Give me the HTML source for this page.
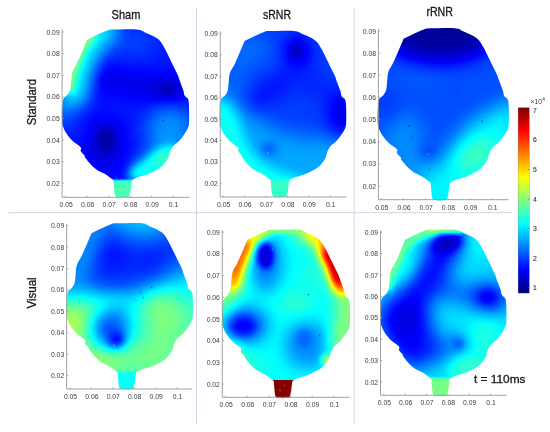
<!DOCTYPE html><html><head><meta charset="utf-8"><title>figure</title><style>html,body{margin:0;padding:0;background:#fff}svg{display:block}text{font-family:"Liberation Sans",sans-serif}</style></head><body>
<svg width="550" height="432" viewBox="0 0 550 432">
<defs>
<linearGradient id="jet" x1="0" y1="1" x2="0" y2="0">
<stop offset="0.000" stop-color="#000080"/>
<stop offset="0.025" stop-color="#000099"/>
<stop offset="0.050" stop-color="#0000b3"/>
<stop offset="0.075" stop-color="#0000cc"/>
<stop offset="0.100" stop-color="#0000e6"/>
<stop offset="0.125" stop-color="#0000ff"/>
<stop offset="0.150" stop-color="#001aff"/>
<stop offset="0.175" stop-color="#0033ff"/>
<stop offset="0.200" stop-color="#004dff"/>
<stop offset="0.225" stop-color="#0066ff"/>
<stop offset="0.250" stop-color="#0080ff"/>
<stop offset="0.275" stop-color="#0099ff"/>
<stop offset="0.300" stop-color="#00b3ff"/>
<stop offset="0.325" stop-color="#00ccff"/>
<stop offset="0.350" stop-color="#00e6ff"/>
<stop offset="0.375" stop-color="#00ffff"/>
<stop offset="0.400" stop-color="#1affe5"/>
<stop offset="0.425" stop-color="#33ffcc"/>
<stop offset="0.450" stop-color="#4cffb3"/>
<stop offset="0.475" stop-color="#66ff99"/>
<stop offset="0.500" stop-color="#80ff80"/>
<stop offset="0.525" stop-color="#99ff66"/>
<stop offset="0.550" stop-color="#b3ff4c"/>
<stop offset="0.575" stop-color="#ccff33"/>
<stop offset="0.600" stop-color="#e6ff19"/>
<stop offset="0.625" stop-color="#ffff00"/>
<stop offset="0.650" stop-color="#ffe500"/>
<stop offset="0.675" stop-color="#ffcc00"/>
<stop offset="0.700" stop-color="#ffb200"/>
<stop offset="0.725" stop-color="#ff9900"/>
<stop offset="0.750" stop-color="#ff8000"/>
<stop offset="0.775" stop-color="#ff6600"/>
<stop offset="0.800" stop-color="#ff4c00"/>
<stop offset="0.825" stop-color="#ff3300"/>
<stop offset="0.850" stop-color="#ff1a00"/>
<stop offset="0.875" stop-color="#ff0000"/>
<stop offset="0.900" stop-color="#e60000"/>
<stop offset="0.925" stop-color="#cc0000"/>
<stop offset="0.950" stop-color="#b20000"/>
<stop offset="0.975" stop-color="#990000"/>
<stop offset="1.000" stop-color="#800000"/>
</linearGradient>
<filter id="b1" filterUnits="userSpaceOnUse" x="0" y="0" width="550" height="432" color-interpolation-filters="sRGB"><feGaussianBlur stdDeviation="1.2"/></filter>
<filter id="b2" filterUnits="userSpaceOnUse" x="0" y="0" width="550" height="432" color-interpolation-filters="sRGB"><feGaussianBlur stdDeviation="2"/></filter>
<filter id="b3" filterUnits="userSpaceOnUse" x="0" y="0" width="550" height="432" color-interpolation-filters="sRGB"><feGaussianBlur stdDeviation="3"/></filter>
<filter id="b4" filterUnits="userSpaceOnUse" x="0" y="0" width="550" height="432" color-interpolation-filters="sRGB"><feGaussianBlur stdDeviation="4.5"/></filter>
<filter id="b6" filterUnits="userSpaceOnUse" x="0" y="0" width="550" height="432" color-interpolation-filters="sRGB"><feGaussianBlur stdDeviation="6"/></filter>
<filter id="b8" filterUnits="userSpaceOnUse" x="0" y="0" width="550" height="432" color-interpolation-filters="sRGB"><feGaussianBlur stdDeviation="8"/></filter>
<filter id="b10" filterUnits="userSpaceOnUse" x="0" y="0" width="550" height="432" color-interpolation-filters="sRGB"><feGaussianBlur stdDeviation="10"/></filter>
<filter id="b12" filterUnits="userSpaceOnUse" x="0" y="0" width="550" height="432" color-interpolation-filters="sRGB"><feGaussianBlur stdDeviation="12"/></filter>
<filter id="jm" filterUnits="userSpaceOnUse" x="0" y="0" width="550" height="432" color-interpolation-filters="sRGB"><feComponentTransfer><feFuncR type="table" tableValues="0 0 0 0 0 0 0 0 0 0 0 0 0 0 0 0 0 0 0 0 0 0 0 0 0 0.0625 0.125 0.188 0.25 0.312 0.375 0.438 0.5 0.562 0.625 0.688 0.75 0.812 0.875 0.938 1 1 1 1 1 1 1 1 1 1 1 1 1 1 1 1 1 0.938 0.875 0.812 0.75 0.688 0.625 0.562 0.5"/><feFuncG type="table" tableValues="0 0 0 0 0 0 0 0 0 0.0625 0.125 0.188 0.25 0.312 0.375 0.438 0.5 0.562 0.625 0.688 0.75 0.812 0.875 0.938 1 1 1 1 1 1 1 1 1 1 1 1 1 1 1 1 1 0.938 0.875 0.812 0.75 0.688 0.625 0.562 0.5 0.438 0.375 0.312 0.25 0.188 0.125 0.0625 0 0 0 0 0 0 0 0 0"/><feFuncB type="table" tableValues="0.5 0.562 0.625 0.688 0.75 0.812 0.875 0.938 1 1 1 1 1 1 1 1 1 1 1 1 1 1 1 1 1 0.938 0.875 0.812 0.75 0.688 0.625 0.562 0.5 0.438 0.375 0.312 0.25 0.188 0.125 0.0625 0 0 0 0 0 0 0 0 0 0 0 0 0 0 0 0 0 0 0 0 0 0 0 0 0"/></feComponentTransfer></filter>
<clipPath id="c1"><path d="M109.1 29.7C118.2 29.6 130.4 29.0 136.5 29.5C142.5 30.0 141.8 31.1 145.4 32.7C149.0 34.3 154.9 36.5 158.1 39.1C161.2 41.6 162.5 44.8 164.5 48.0C166.4 51.2 167.9 54.8 169.6 58.2C171.2 61.6 173.2 65.6 174.6 68.4C175.9 71.2 176.9 73.0 177.8 75.0C178.6 77.0 178.6 77.6 179.6 80.2C180.5 82.8 182.5 87.9 183.4 90.4C184.2 93.0 183.8 94.0 184.6 95.5C185.4 97.0 187.4 97.2 188.2 99.3C188.9 101.4 188.9 104.8 189.1 108.2C189.2 111.7 189.2 117.0 189.1 120.0C189.0 123.0 189.1 124.3 188.5 126.4C187.8 128.5 186.7 130.4 185.3 132.7C183.8 135.0 181.6 138.2 179.6 140.4C177.5 142.6 174.8 144.2 173.2 146.1C171.6 148.0 170.7 150.0 170.0 151.8C169.2 153.6 169.4 155.2 168.7 156.9C167.9 158.6 167.1 160.1 165.6 162.0C164.0 163.9 162.1 166.4 159.2 168.4C156.2 170.4 150.9 172.8 148.1 174.0C145.3 175.2 144.4 175.1 142.4 175.8C140.3 176.5 137.7 177.2 136.0 178.0C134.2 178.8 133.2 179.5 131.9 180.3C131.5 182.9 131.2 186.0 130.9 188.2C130.5 190.4 130.5 192.1 130.0 193.6C129.4 195.1 129.8 196.3 127.7 196.9C125.5 197.5 119.0 197.5 116.9 196.9C114.7 196.3 115.1 195.1 114.7 193.6C114.2 192.1 114.3 190.4 114.1 188.2C113.8 186.0 113.6 182.9 113.4 180.3C112.4 179.5 111.9 179.0 110.6 178.0C109.2 177.0 107.6 175.5 105.5 174.2C103.3 172.9 100.1 171.9 97.8 170.4C95.4 168.9 93.6 167.4 91.5 165.3C89.3 163.2 86.2 159.2 85.1 157.6C83.9 156.0 85.3 156.7 84.6 155.6C83.8 154.5 81.4 152.6 80.8 151.2C80.1 149.8 82.0 149.0 80.8 147.4C79.5 145.8 75.5 143.8 73.2 141.6C70.8 139.4 68.5 136.5 66.8 134.0C65.1 131.5 63.8 128.7 63.0 126.4C62.2 124.1 62.1 123.5 62.0 120.0C61.9 116.5 62.1 109.2 62.4 105.6C62.6 102.0 62.7 100.4 63.6 98.6C64.4 96.8 66.3 96.4 67.5 94.8C68.6 93.2 69.7 91.5 70.4 89.1C71.0 86.7 70.9 83.1 71.3 80.2C71.6 77.3 71.6 74.3 72.6 71.5C73.5 68.7 75.4 66.6 77.0 63.3C78.5 60.0 80.4 55.7 82.1 51.8C83.8 47.9 85.5 43.7 87.2 39.7C90.8 37.9 94.4 36.0 98.1 34.3C101.7 32.6 105.4 31.2 109.1 29.7Z"/></clipPath>
<clipPath id="c2"><path d="M266.5 31.1C275.6 31.1 287.7 30.4 293.8 30.9C299.8 31.4 299.1 32.5 302.6 34.1C306.2 35.7 312.1 37.9 315.3 40.4C318.5 43.0 319.8 46.1 321.7 49.3C323.6 52.4 325.1 56.0 326.8 59.4C328.4 62.7 330.4 66.7 331.7 69.5C333.1 72.2 334.1 74.1 334.9 76.0C335.8 78.0 335.8 78.6 336.7 81.2C337.7 83.7 339.7 88.7 340.5 91.3C341.3 93.8 340.9 94.8 341.7 96.3C342.5 97.8 344.6 98.0 345.3 100.1C346.0 102.2 346.0 105.5 346.2 108.9C346.3 112.3 346.3 117.6 346.2 120.6C346.1 123.6 346.2 124.8 345.6 126.9C345.0 129.0 343.9 130.9 342.4 133.2C340.9 135.5 338.7 138.6 336.7 140.8C334.7 143.0 331.9 144.6 330.3 146.4C328.8 148.3 327.9 150.3 327.2 152.1C326.4 153.9 326.6 155.5 325.9 157.1C325.1 158.8 324.4 160.3 322.8 162.2C321.2 164.1 319.3 166.6 316.4 168.5C313.5 170.5 308.1 172.9 305.3 174.1C302.5 175.3 301.7 175.2 299.6 175.9C297.6 176.5 295.0 177.3 293.3 178.0C291.5 178.8 290.5 179.6 289.2 180.3C288.9 182.9 288.5 186.0 288.2 188.2C287.9 190.4 287.8 192.1 287.3 193.5C286.8 194.9 287.2 196.2 285.0 196.8C282.8 197.3 276.4 197.3 274.2 196.8C272.1 196.2 272.5 194.9 272.0 193.5C271.6 192.1 271.7 190.4 271.4 188.2C271.2 186.0 271.0 182.9 270.7 180.3C269.8 179.6 269.3 179.1 268.0 178.0C266.6 177.0 265.0 175.5 262.9 174.3C260.7 173.0 257.5 172.0 255.2 170.5C252.9 169.0 251.0 167.6 248.9 165.5C246.8 163.4 243.7 159.4 242.5 157.8C241.4 156.2 242.8 156.9 242.0 155.9C241.3 154.8 238.9 152.9 238.3 151.5C237.6 150.1 239.5 149.3 238.3 147.7C237.0 146.1 233.0 144.2 230.7 142.0C228.3 139.8 226.0 137.0 224.3 134.5C222.6 131.9 221.3 129.2 220.5 126.9C219.7 124.6 219.6 124.0 219.5 120.6C219.4 117.2 219.6 109.9 219.9 106.3C220.2 102.8 220.3 101.2 221.1 99.4C222.0 97.6 223.9 97.2 225.0 95.6C226.1 94.1 227.3 92.4 227.9 90.0C228.5 87.6 228.4 84.1 228.8 81.2C229.1 78.2 229.1 75.3 230.1 72.5C231.0 69.7 232.9 67.7 234.5 64.4C236.0 61.2 237.9 56.9 239.5 53.0C241.2 49.1 242.9 45.0 244.6 41.0C248.3 39.2 251.9 37.3 255.5 35.7C259.1 34.0 262.8 32.6 266.5 31.1Z"/></clipPath>
<clipPath id="c3"><path d="M426.2 28.5C435.6 28.5 448.3 27.8 454.5 28.3C460.8 28.8 460.0 30.0 463.7 31.6C467.4 33.3 473.5 35.6 476.8 38.2C480.1 40.8 481.4 44.0 483.4 47.3C485.4 50.6 486.9 54.3 488.7 57.8C490.4 61.3 492.4 65.4 493.8 68.2C495.3 71.1 496.3 73.0 497.2 75.0C498.0 77.0 498.0 77.7 499.0 80.3C500.0 83.0 502.1 88.2 502.9 90.8C503.8 93.4 503.3 94.5 504.2 96.0C505.0 97.5 507.1 97.7 507.9 99.9C508.7 102.1 508.7 105.5 508.8 109.0C509.0 112.6 508.9 118.0 508.8 121.1C508.7 124.2 508.9 125.5 508.2 127.7C507.5 129.9 506.4 131.8 504.9 134.2C503.4 136.6 501.1 139.8 499.0 142.1C496.9 144.3 494.1 146.0 492.4 147.9C490.8 149.9 489.9 151.9 489.1 153.7C488.3 155.6 488.5 157.2 487.8 159.0C487.0 160.7 486.2 162.2 484.6 164.2C482.9 166.2 481.0 168.7 477.9 170.8C474.9 172.8 469.4 175.2 466.5 176.5C463.6 177.8 462.7 177.7 460.6 178.4C458.5 179.0 455.8 179.8 454.0 180.6C452.2 181.4 451.2 182.2 449.8 183.0C449.4 185.7 449.1 188.8 448.7 191.1C448.4 193.3 448.3 195.1 447.8 196.6C447.2 198.1 447.7 199.4 445.4 200.0C443.2 200.6 436.5 200.6 434.3 200.0C432.0 199.4 432.5 198.1 432.0 196.6C431.5 195.1 431.6 193.3 431.4 191.1C431.2 188.8 430.9 185.7 430.7 183.0C429.7 182.2 429.1 181.7 427.8 180.6C426.4 179.6 424.7 178.0 422.5 176.7C420.3 175.4 417.0 174.3 414.5 172.8C412.1 171.3 410.2 169.8 408.0 167.6C405.9 165.4 402.6 161.4 401.4 159.7C400.2 158.0 401.7 158.7 400.9 157.6C400.2 156.6 397.6 154.5 397.0 153.1C396.3 151.7 398.3 150.9 397.0 149.2C395.7 147.6 391.6 145.6 389.1 143.3C386.7 141.0 384.3 138.1 382.5 135.5C380.8 132.9 379.4 130.1 378.6 127.7C377.8 125.3 377.7 124.7 377.6 121.1C377.5 117.6 377.7 110.0 378.0 106.4C378.3 102.7 378.4 101.0 379.2 99.2C380.1 97.3 382.1 96.9 383.3 95.3C384.4 93.7 385.6 91.9 386.3 89.5C386.9 87.0 386.8 83.3 387.2 80.3C387.6 77.3 387.5 74.3 388.5 71.4C389.5 68.5 391.4 66.4 393.1 63.0C394.7 59.6 396.6 55.2 398.3 51.2C400.1 47.2 401.8 42.9 403.6 38.8C407.4 36.9 411.1 35.0 414.9 33.3C418.6 31.5 422.4 30.1 426.2 28.5Z"/></clipPath>
<clipPath id="c4"><path d="M113.3 223.3C122.4 223.3 134.5 222.6 140.6 223.1C146.6 223.6 145.8 224.7 149.4 226.3C153.0 227.9 158.9 230.1 162.1 232.6C165.2 235.2 166.5 238.3 168.4 241.5C170.3 244.6 171.8 248.2 173.5 251.6C175.2 254.9 177.1 258.9 178.5 261.7C179.9 264.4 180.8 266.3 181.7 268.2C182.5 270.2 182.5 270.8 183.5 273.4C184.4 275.9 186.4 280.9 187.3 283.5C188.1 286.0 187.7 287.0 188.4 288.5C189.2 290.0 191.3 290.2 192.0 292.3C192.8 294.4 192.8 297.7 192.9 301.1C193.1 304.5 193.0 309.8 192.9 312.8C192.8 315.8 193.0 317.0 192.3 319.1C191.7 321.2 190.6 323.1 189.1 325.4C187.7 327.7 185.5 330.8 183.5 333.0C181.5 335.2 178.7 336.8 177.1 338.6C175.5 340.5 174.7 342.5 173.9 344.3C173.2 346.1 173.4 347.7 172.6 349.3C171.9 351.0 171.1 352.5 169.5 354.4C168.0 356.3 166.1 358.8 163.2 360.7C160.3 362.7 154.9 365.1 152.1 366.3C149.3 367.5 148.5 367.4 146.4 368.1C144.4 368.7 141.8 369.5 140.1 370.2C138.3 371.0 137.4 371.8 136.0 372.5C135.7 375.1 135.3 378.2 135.0 380.4C134.7 382.6 134.6 384.3 134.1 385.7C133.6 387.1 134.0 388.4 131.8 389.0C129.6 389.5 123.2 389.5 121.1 389.0C118.9 388.4 119.3 387.1 118.9 385.7C118.4 384.3 118.5 382.6 118.3 380.4C118.1 378.2 117.8 375.1 117.6 372.5C116.6 371.8 116.1 371.3 114.8 370.2C113.5 369.2 111.8 367.7 109.7 366.5C107.6 365.2 104.4 364.2 102.1 362.7C99.7 361.2 97.9 359.8 95.8 357.7C93.7 355.6 90.6 351.6 89.4 350.0C88.3 348.4 89.6 349.1 88.9 348.1C88.2 347.0 85.8 345.1 85.1 343.7C84.5 342.3 86.4 341.5 85.1 339.9C83.9 338.3 79.9 336.4 77.6 334.2C75.2 332.0 72.9 329.2 71.2 326.7C69.5 324.1 68.2 321.4 67.4 319.1C66.6 316.8 66.5 316.2 66.4 312.8C66.3 309.4 66.5 302.1 66.8 298.5C67.1 295.0 67.2 293.4 68.0 291.6C68.9 289.8 70.8 289.4 71.9 287.8C73.0 286.3 74.1 284.6 74.8 282.2C75.4 279.8 75.3 276.3 75.7 273.4C76.0 270.4 76.0 267.5 77.0 264.7C77.9 261.9 79.8 259.9 81.3 256.6C82.9 253.4 84.7 249.1 86.4 245.2C88.1 241.3 89.8 237.2 91.5 233.2C95.1 231.4 98.7 229.5 102.3 227.9C106.0 226.2 109.6 224.8 113.3 223.3Z"/></clipPath>
<clipPath id="c5"><path d="M269.4 229.8C278.6 229.7 290.9 229.1 297.0 229.6C303.1 230.1 302.3 231.2 306.0 232.8C309.6 234.4 315.5 236.7 318.7 239.2C322.0 241.8 323.3 245.0 325.2 248.2C327.1 251.4 328.6 255.0 330.3 258.4C332.0 261.8 334.0 265.9 335.4 268.7C336.7 271.5 337.7 273.3 338.6 275.3C339.4 277.3 339.5 277.9 340.4 280.5C341.3 283.1 343.4 288.2 344.2 290.8C345.1 293.3 344.6 294.4 345.4 295.9C346.2 297.4 348.3 297.6 349.1 299.7C349.8 301.8 349.8 305.2 350.0 308.7C350.1 312.1 350.1 317.5 350.0 320.5C349.9 323.6 350.0 324.8 349.4 326.9C348.7 329.1 347.6 330.9 346.1 333.3C344.6 335.6 342.4 338.8 340.4 341.0C338.4 343.2 335.6 344.8 334.0 346.7C332.3 348.6 331.5 350.6 330.7 352.5C330.0 354.3 330.2 355.9 329.4 357.6C328.7 359.3 327.9 360.8 326.3 362.7C324.7 364.6 322.8 367.1 319.9 369.1C316.9 371.1 311.5 373.5 308.7 374.8C305.9 376.0 305.0 375.9 302.9 376.6C300.9 377.2 298.3 378.0 296.5 378.8C294.7 379.5 293.7 380.3 292.4 381.1C292.0 383.7 291.7 386.8 291.4 389.0C291.0 391.2 291.0 393.0 290.4 394.4C289.9 395.9 290.3 397.2 288.1 397.8C285.9 398.3 279.4 398.3 277.3 397.8C275.1 397.2 275.5 395.9 275.0 394.4C274.6 393.0 274.7 391.2 274.4 389.0C274.2 386.8 274.0 383.7 273.7 381.1C272.8 380.3 272.2 379.8 270.9 378.8C269.6 377.8 267.9 376.2 265.8 375.0C263.6 373.7 260.4 372.6 258.0 371.1C255.7 369.7 253.8 368.2 251.7 366.0C249.5 363.9 246.4 359.9 245.2 358.3C244.1 356.7 245.5 357.3 244.7 356.3C244.0 355.2 241.5 353.2 240.9 351.9C240.3 350.5 242.2 349.6 240.9 348.0C239.6 346.4 235.6 344.5 233.3 342.2C230.9 340.0 228.5 337.1 226.8 334.6C225.1 332.0 223.8 329.3 223.0 326.9C222.2 324.6 222.1 324.0 222.0 320.5C221.9 317.0 222.1 309.6 222.4 306.0C222.6 302.5 222.7 300.8 223.6 299.0C224.4 297.2 226.4 296.8 227.5 295.2C228.7 293.6 229.8 291.9 230.4 289.5C231.1 287.0 231.0 283.5 231.3 280.5C231.7 277.6 231.7 274.6 232.6 271.8C233.6 269.0 235.5 266.8 237.1 263.5C238.7 260.2 240.5 255.9 242.2 252.0C243.9 248.0 245.6 243.9 247.4 239.8C251.0 238.0 254.7 236.1 258.3 234.4C262.0 232.7 265.7 231.3 269.4 229.8Z"/></clipPath>
<clipPath id="c6"><path d="M427.0 229.8C436.1 229.8 448.2 229.1 454.2 229.6C460.2 230.1 459.5 231.2 463.0 232.8C466.6 234.4 472.5 236.6 475.6 239.1C478.8 241.7 480.1 244.8 482.0 248.0C483.9 251.1 485.4 254.7 487.0 258.1C488.7 261.4 490.6 265.4 492.0 268.2C493.3 270.9 494.3 272.8 495.2 274.7C496.0 276.7 496.0 277.3 496.9 279.9C497.9 282.4 499.9 287.4 500.7 290.0C501.5 292.5 501.1 293.5 501.9 295.0C502.7 296.5 504.7 296.7 505.5 298.8C506.2 300.9 506.2 304.2 506.4 307.6C506.5 311.0 506.5 316.3 506.4 319.3C506.3 322.3 506.4 323.5 505.8 325.6C505.1 327.7 504.1 329.6 502.6 331.9C501.1 334.2 498.9 337.3 496.9 339.5C494.9 341.7 492.2 343.3 490.6 345.1C489.0 347.0 488.2 349.0 487.4 350.8C486.7 352.6 486.9 354.2 486.1 355.8C485.4 357.5 484.6 359.0 483.1 360.9C481.5 362.8 479.6 365.3 476.7 367.2C473.8 369.2 468.5 371.6 465.7 372.8C462.9 374.0 462.1 373.9 460.1 374.6C458.1 375.2 455.4 376.0 453.7 376.7C452.0 377.5 451.0 378.3 449.6 379.0C449.3 381.6 449.0 384.7 448.7 386.9C448.3 389.1 448.3 390.8 447.8 392.2C447.2 393.6 447.6 394.9 445.5 395.5C443.3 396.0 436.9 396.0 434.8 395.5C432.6 394.9 433.1 393.6 432.6 392.2C432.1 390.8 432.2 389.1 432.0 386.9C431.8 384.7 431.5 381.6 431.3 379.0C430.4 378.3 429.8 377.8 428.5 376.7C427.2 375.7 425.6 374.2 423.5 373.0C421.4 371.7 418.1 370.7 415.8 369.2C413.5 367.7 411.7 366.3 409.6 364.2C407.5 362.1 404.4 358.1 403.2 356.5C402.1 354.9 403.5 355.6 402.7 354.6C402.0 353.5 399.6 351.6 399.0 350.2C398.3 348.8 400.2 348.0 399.0 346.4C397.7 344.8 393.8 342.9 391.4 340.7C389.1 338.5 386.8 335.7 385.1 333.2C383.4 330.6 382.1 327.9 381.3 325.6C380.5 323.3 380.4 322.7 380.3 319.3C380.2 315.9 380.5 308.6 380.7 305.0C381.0 301.5 381.1 299.9 381.9 298.1C382.8 296.3 384.7 295.9 385.8 294.3C386.9 292.8 388.0 291.1 388.7 288.7C389.3 286.3 389.2 282.8 389.6 279.9C389.9 276.9 389.9 274.0 390.8 271.2C391.8 268.4 393.6 266.4 395.2 263.1C396.8 259.9 398.6 255.6 400.3 251.7C401.9 247.8 403.6 243.7 405.3 239.7C408.9 237.9 412.5 236.0 416.1 234.4C419.7 232.7 423.4 231.3 427.0 229.8Z"/></clipPath>
</defs>
<rect width="550" height="432" fill="#fff"/>
<g stroke="#cdd3e6" stroke-width="1" fill="none"><path d="M196.5 8V424M354.1 8V424M8.5 212.7H512"/></g>
<g clip-path="url(#c1)"><g filter="url(#jm)">
<rect x="57.1" y="26.5" width="140" height="180" fill="#262626"/>
<g filter="url(#b10)">
<ellipse cx="128" cy="42" rx="30" ry="14" fill="#323232"/>
<polyline points="97,78 130,84 165,90" fill="none" stroke="#161616" stroke-width="18" stroke-linecap="round" stroke-linejoin="round"/>
<ellipse cx="168" cy="90" rx="20" ry="11" fill="#111111"/>
<ellipse cx="106" cy="141" rx="14" ry="22" fill="#0f0f0f"/>
<ellipse cx="100" cy="162" rx="22" ry="9" fill="#1a1a1a" transform="rotate(30 100 162)"/>
<ellipse cx="170" cy="130" rx="24" ry="24" fill="#464646"/>
<ellipse cx="63" cy="106" rx="10" ry="18" fill="#484848"/>
</g>
<g filter="url(#b8)">
<polyline points="103,30 89,45 79,68 74,92" fill="none" stroke="#5d5d5d" stroke-width="28" stroke-linecap="round" stroke-linejoin="round"/>
<ellipse cx="158" cy="162" rx="26" ry="13" fill="#595959" transform="rotate(-35 158 162)"/>
</g>
<g filter="url(#b3)">
<polyline points="91,36 80,52 73.5,70 69.5,88" fill="none" stroke="#818181" stroke-width="10" stroke-linecap="round" stroke-linejoin="round"/>
</g>
<g filter="url(#b4)">
<ellipse cx="167" cy="90" rx="9" ry="5" fill="#0b0b0b"/>
<ellipse cx="106" cy="141" rx="7" ry="11" fill="#070707"/>
<ellipse cx="161" cy="160" rx="18" ry="9" fill="#6f6f6f" transform="rotate(-38 161 160)"/>
<ellipse cx="146" cy="170" rx="18" ry="8" fill="#656565" transform="rotate(-20 146 170)"/>
</g>
<g filter="url(#b1)">
<polygon shape-rendering="crispEdges" points="110,180 134,180 134,200 110,200" fill="#727272"/>
</g>
</g>
<circle cx="114.5" cy="48.8" r="0.8" fill="#0a1a9a" opacity="0.55"/>
<circle cx="163.2" cy="120.5" r="0.8" fill="#0a1a9a" opacity="0.55"/>
</g>
<g stroke="#969696" stroke-width="0.9" fill="none">
<path d="M62.1 29.5V197.3H189.3M65.6 197.3v-1.5M87.1 197.3v-1.5M108.6 197.3v-1.5M130.1 197.3v-1.5M151.6 197.3v-1.5M173.1 197.3v-1.5M62.1 183.3h1.5M62.1 161.7h1.5M62.1 140.1h1.5M62.1 118.5h1.5M62.1 96.9h1.5M62.1 75.3h1.5M62.1 53.7h1.5M62.1 32.1h1.5"/></g>
<g font-size="6.8" fill="#3c3c3c">
<text x="66.1" y="207.3" text-anchor="middle">0.05</text>
<text x="87.6" y="207.3" text-anchor="middle">0.06</text>
<text x="109.1" y="207.3" text-anchor="middle">0.07</text>
<text x="130.6" y="207.3" text-anchor="middle">0.08</text>
<text x="152.1" y="207.3" text-anchor="middle">0.09</text>
<text x="173.6" y="207.3" text-anchor="middle">0.1</text>
<text x="59.7" y="185.8" text-anchor="end">0.02</text>
<text x="59.7" y="164.2" text-anchor="end">0.03</text>
<text x="59.7" y="142.6" text-anchor="end">0.04</text>
<text x="59.7" y="121.0" text-anchor="end">0.05</text>
<text x="59.7" y="99.4" text-anchor="end">0.06</text>
<text x="59.7" y="77.8" text-anchor="end">0.07</text>
<text x="59.7" y="56.2" text-anchor="end">0.08</text>
<text x="59.7" y="34.6" text-anchor="end">0.09</text>
</g>
<g clip-path="url(#c2)"><g filter="url(#jm)">
<rect x="215.2" y="28.5" width="140" height="180" fill="#303030"/>
<g filter="url(#b10)">
<ellipse cx="248" cy="50" rx="24" ry="16" fill="#3c3c3c"/>
<ellipse cx="236" cy="78" rx="8" ry="16" fill="#404040"/>
<ellipse cx="298" cy="52" rx="12" ry="16" fill="#141414"/>
<polyline points="250,108 265,93 288,80" fill="none" stroke="#1c1c1c" stroke-width="14" stroke-linecap="round" stroke-linejoin="round"/>
<ellipse cx="341" cy="114" rx="10" ry="24" fill="#111111"/>
<ellipse cx="315" cy="85" rx="14" ry="12" fill="#262626"/>
<polygon shape-rendering="crispEdges" points="215,88 228,92 252,112 272,128 295,136 318,138 335,135 350,145 350,200 215,200" fill="#4a4a4a"/>
</g>
<g filter="url(#b6)">
<polygon shape-rendering="crispEdges" points="212,97 227,101 238,118 243,135 250,150 262,163 280,172 302,177 302,200 212,200" fill="#636363"/>
</g>
<g filter="url(#b4)">
<ellipse cx="297" cy="51" rx="6" ry="8" fill="#0d0d0d"/>
<ellipse cx="269" cy="148.5" rx="7" ry="5" fill="#303030"/>
</g>
<g filter="url(#b1)">
<polygon shape-rendering="crispEdges" points="266,180 292,180 292,200 266,200" fill="#6d6d6d"/>
</g>
</g>
<circle cx="292.8" cy="119" r="0.8" fill="#0a1a9a" opacity="0.55"/>
<circle cx="267.7" cy="152.7" r="0.7" fill="#bfe8ff" opacity="0.55"/>
</g>
<g stroke="#969696" stroke-width="0.9" fill="none">
<path d="M220.2 31.5V197.0H346.6M223.1 197.0v-1.5M244.5 197.0v-1.5M266.0 197.0v-1.5M287.4 197.0v-1.5M308.8 197.0v-1.5M330.2 197.0v-1.5M220.2 183.3h1.5M220.2 161.9h1.5M220.2 140.5h1.5M220.2 119.1h1.5M220.2 97.7h1.5M220.2 76.3h1.5M220.2 54.9h1.5M220.2 33.5h1.5"/></g>
<g font-size="6.8" fill="#3c3c3c">
<text x="223.6" y="207.0" text-anchor="middle">0.05</text>
<text x="245.0" y="207.0" text-anchor="middle">0.06</text>
<text x="266.5" y="207.0" text-anchor="middle">0.07</text>
<text x="287.9" y="207.0" text-anchor="middle">0.08</text>
<text x="309.3" y="207.0" text-anchor="middle">0.09</text>
<text x="330.8" y="207.0" text-anchor="middle">0.1</text>
<text x="217.8" y="185.8" text-anchor="end">0.02</text>
<text x="217.8" y="164.4" text-anchor="end">0.03</text>
<text x="217.8" y="143.0" text-anchor="end">0.04</text>
<text x="217.8" y="121.6" text-anchor="end">0.05</text>
<text x="217.8" y="100.2" text-anchor="end">0.06</text>
<text x="217.8" y="78.8" text-anchor="end">0.07</text>
<text x="217.8" y="57.4" text-anchor="end">0.08</text>
<text x="217.8" y="36.0" text-anchor="end">0.09</text>
</g>
<g clip-path="url(#c3)"><g filter="url(#jm)">
<rect x="373.4" y="25.8" width="140" height="180" fill="#343434"/>
<g filter="url(#b10)">
<ellipse cx="440" cy="24" rx="62" ry="38" fill="#070707"/>
<ellipse cx="431" cy="177" rx="22" ry="9" fill="#555555"/>
<ellipse cx="420" cy="78" rx="20" ry="10" fill="#383838"/>
<polygon shape-rendering="crispEdges" points="520,98 497,108 472,122 453,143 440,162 424,178 420,205 520,205" fill="#5f5f5f"/>
<ellipse cx="403" cy="140" rx="20" ry="28" fill="#444444"/>
<ellipse cx="412" cy="165" rx="14" ry="8" fill="#484848"/>
<ellipse cx="388" cy="108" rx="8" ry="16" fill="#282828"/>
</g>
<g filter="url(#b8)">
<ellipse cx="476" cy="155" rx="22" ry="12" fill="#717171" transform="rotate(-42 476 155)"/>
</g>
<g filter="url(#b4)">
<ellipse cx="429" cy="150.5" rx="7" ry="4.5" fill="#303030"/>
</g>
<g filter="url(#b1)">
<polygon shape-rendering="crispEdges" points="428,183 454,183 454,203 428,203" fill="#5d5d5d"/>
</g>
</g>
<circle cx="409.4" cy="125.8" r="0.9" fill="#0a1a9a" opacity="0.55"/>
<circle cx="453.6" cy="119.3" r="0.8" fill="#0a1a9a" opacity="0.55"/>
<circle cx="482.2" cy="121.3" r="0.9" fill="#0a1a9a" opacity="0.55"/>
<circle cx="411.4" cy="137.6" r="0.8" fill="#0a1a9a" opacity="0.55"/>
<circle cx="428.2" cy="154.4" r="0.7" fill="#bfe8ff" opacity="0.55"/>
<circle cx="429.5" cy="169.5" r="0.8" fill="#0a1a9a" opacity="0.55"/>
</g>
<g stroke="#969696" stroke-width="0.9" fill="none">
<path d="M378.4 28.8V199.7H508.5M381.3 199.7v-1.5M403.5 199.7v-1.5M425.7 199.7v-1.5M447.9 199.7v-1.5M470.1 199.7v-1.5M492.3 199.7v-1.5M378.4 186.1h1.5M378.4 163.9h1.5M378.4 141.8h1.5M378.4 119.6h1.5M378.4 97.5h1.5M378.4 75.3h1.5M378.4 53.2h1.5M378.4 31.0h1.5"/></g>
<g font-size="6.8" fill="#3c3c3c">
<text x="381.8" y="209.7" text-anchor="middle">0.05</text>
<text x="404.0" y="209.7" text-anchor="middle">0.06</text>
<text x="426.2" y="209.7" text-anchor="middle">0.07</text>
<text x="448.4" y="209.7" text-anchor="middle">0.08</text>
<text x="470.6" y="209.7" text-anchor="middle">0.09</text>
<text x="492.8" y="209.7" text-anchor="middle">0.1</text>
<text x="376.0" y="188.6" text-anchor="end">0.02</text>
<text x="376.0" y="166.4" text-anchor="end">0.03</text>
<text x="376.0" y="144.2" text-anchor="end">0.04</text>
<text x="376.0" y="122.1" text-anchor="end">0.05</text>
<text x="376.0" y="100.0" text-anchor="end">0.06</text>
<text x="376.0" y="77.8" text-anchor="end">0.07</text>
<text x="376.0" y="55.7" text-anchor="end">0.08</text>
<text x="376.0" y="33.5" text-anchor="end">0.09</text>
</g>
<g clip-path="url(#c4)"><g filter="url(#jm)">
<rect x="61.6" y="220.8" width="140" height="180" fill="#717171"/>
<g filter="url(#b10)">
<polygon shape-rendering="crispEdges" points="55,215 200,215 200,272 178,279 152,288 128,295 105,295 85,291 55,291" fill="#2c2c2c"/>
<ellipse cx="180" cy="274" rx="14" ry="12" fill="#484848"/>
<ellipse cx="143" cy="228" rx="30" ry="12" fill="#4c4c4c"/>
<ellipse cx="111" cy="254" rx="18" ry="12" fill="#202020"/>
<ellipse cx="152" cy="256" rx="14" ry="9" fill="#242424"/>
<polyline points="96,228 85,252 76,280" fill="none" stroke="#595959" stroke-width="13" stroke-linecap="round" stroke-linejoin="round"/>
<ellipse cx="72" cy="322" rx="14" ry="22" fill="#929292"/>
<ellipse cx="160" cy="312" rx="26" ry="17" fill="#818181"/>
<ellipse cx="134" cy="316" rx="10" ry="20" fill="#5f5f5f"/>
<ellipse cx="102" cy="358" rx="24" ry="10" fill="#8e8e8e"/>
<ellipse cx="150" cy="358" rx="22" ry="9" fill="#858585"/>
<ellipse cx="188" cy="297" rx="8" ry="10" fill="#595959"/>
<ellipse cx="166" cy="336" rx="18" ry="12" fill="#7f7f7f"/>
<ellipse cx="69" cy="298" rx="8" ry="8" fill="#555555"/>
</g>
<g filter="url(#b8)">
<ellipse cx="111" cy="329" rx="18" ry="19" fill="#343434"/>
<ellipse cx="119" cy="308" rx="10" ry="8" fill="#4c4c4c"/>
</g>
<g filter="url(#b4)">
<ellipse cx="116.5" cy="339.5" rx="7" ry="7" fill="#181818"/>
</g>
<g filter="url(#b1)">
<polygon shape-rendering="crispEdges" points="114,372 140,372 140,392 114,392" fill="#616161"/>
</g>
</g>
<circle cx="151.6" cy="287.3" r="0.9" fill="#0a1a9a" opacity="0.55"/>
<circle cx="140.3" cy="292.8" r="0.8" fill="#0a1a9a" opacity="0.55"/>
<circle cx="143.3" cy="297.8" r="0.7" fill="#0a1a9a" opacity="0.55"/>
<circle cx="136" cy="300" r="0.6" fill="#0a1a9a" opacity="0.55"/>
<circle cx="114" cy="345.2" r="0.7" fill="#d8f4ff" opacity="0.55"/>
</g>
<g stroke="#969696" stroke-width="0.9" fill="none">
<path d="M66.6 223.8V389.0H192.3M70.0 389.0v-1.5M91.4 389.0v-1.5M112.8 389.0v-1.5M134.2 389.0v-1.5M155.6 389.0v-1.5M177.0 389.0v-1.5M66.6 375.5h1.5M66.6 354.1h1.5M66.6 332.7h1.5M66.6 311.3h1.5M66.6 289.9h1.5M66.6 268.5h1.5M66.6 247.1h1.5M66.6 225.7h1.5"/></g>
<g font-size="6.8" fill="#3c3c3c">
<text x="70.5" y="399.0" text-anchor="middle">0.05</text>
<text x="91.9" y="399.0" text-anchor="middle">0.06</text>
<text x="113.3" y="399.0" text-anchor="middle">0.07</text>
<text x="134.7" y="399.0" text-anchor="middle">0.08</text>
<text x="156.1" y="399.0" text-anchor="middle">0.09</text>
<text x="177.5" y="399.0" text-anchor="middle">0.1</text>
<text x="64.2" y="378.0" text-anchor="end">0.02</text>
<text x="64.2" y="356.6" text-anchor="end">0.03</text>
<text x="64.2" y="335.2" text-anchor="end">0.04</text>
<text x="64.2" y="313.8" text-anchor="end">0.05</text>
<text x="64.2" y="292.4" text-anchor="end">0.06</text>
<text x="64.2" y="271.0" text-anchor="end">0.07</text>
<text x="64.2" y="249.6" text-anchor="end">0.08</text>
<text x="64.2" y="228.2" text-anchor="end">0.09</text>
</g>
<g clip-path="url(#c5)"><g filter="url(#jm)">
<rect x="217.3" y="227.5" width="140" height="180" fill="#616161"/>
<g filter="url(#b8)">
<polyline points="266,228 248,240 238,260 231,285 225,305 225,330 236,348" fill="none" stroke="#898989" stroke-width="18" stroke-linecap="round" stroke-linejoin="round"/>
<polyline points="300,228 322,240 333,260 341,283 348,300 346,325 336,348" fill="none" stroke="#898989" stroke-width="18" stroke-linecap="round" stroke-linejoin="round"/>
<polyline points="240,356 258,372" fill="none" stroke="#757575" stroke-width="8" stroke-linecap="round" stroke-linejoin="round"/>
<ellipse cx="266" cy="262" rx="16" ry="30" fill="#404040"/>
<ellipse cx="244" cy="325" rx="25" ry="20" fill="#3c3c3c"/>
<ellipse cx="307" cy="345" rx="23" ry="24" fill="#444444"/>
<ellipse cx="296" cy="302" rx="16" ry="10" fill="#6d6d6d"/>
<ellipse cx="312" cy="276" rx="10" ry="12" fill="#696969"/>
</g>
<g filter="url(#b4)">
<polyline points="262,230 252,237 245,246" fill="none" stroke="#a2a2a2" stroke-width="14" stroke-linecap="round" stroke-linejoin="round"/>
<polyline points="244,248 236,266 232,282" fill="none" stroke="#bababa" stroke-width="16" stroke-linecap="round" stroke-linejoin="round"/>
<polyline points="310,232 320,239 327,248" fill="none" stroke="#a6a6a6" stroke-width="14" stroke-linecap="round" stroke-linejoin="round"/>
<polyline points="328,250 337,269 342,285" fill="none" stroke="#cbcbcb" stroke-width="18" stroke-linecap="round" stroke-linejoin="round"/>
<ellipse cx="243.5" cy="326" rx="13" ry="10" fill="#1e1e1e"/>
</g>
<g filter="url(#b3)">
<polyline points="246,244 239,258 234.5,272" fill="none" stroke="#cbcbcb" stroke-width="6" stroke-linecap="round" stroke-linejoin="round"/>
<polyline points="330,254 335,264 339.5,278" fill="none" stroke="#efefef" stroke-width="12" stroke-linecap="round" stroke-linejoin="round"/>
<ellipse cx="265.5" cy="256" rx="8" ry="13" fill="#141414"/>
<ellipse cx="304" cy="339" rx="8" ry="9" fill="#3a3a3a"/>
<ellipse cx="327" cy="360" rx="5" ry="4" fill="#a2a2a2"/>
</g>
<g filter="url(#b2)">
<polyline points="258,231 305,231" fill="none" stroke="#898989" stroke-width="4" stroke-linecap="round" stroke-linejoin="round"/>
</g>
<g>
<polygon shape-rendering="crispEdges" points="269,380 296,380 296,400 269,400" fill="#fdfdfd"/>
</g>
</g>
<circle cx="308.4" cy="294.5" r="0.8" fill="#0a1a9a" opacity="0.55"/>
<circle cx="319.7" cy="335.1" r="0.8" fill="#0a1a9a" opacity="0.55"/>
<circle cx="280" cy="390.4" r="0.8" fill="#5fd0e0" opacity="0.55"/>
<circle cx="284.6" cy="385.6" r="0.8" fill="#ff5020" opacity="0.55"/>
<circle cx="272.5" cy="249" r="0.6" fill="#d8f4ff" opacity="0.55"/>
</g>
<g stroke="#969696" stroke-width="0.9" fill="none">
<path d="M222.3 230.5V397.3H349.8M225.6 397.3v-1.5M247.2 397.3v-1.5M268.9 397.3v-1.5M290.5 397.3v-1.5M312.2 397.3v-1.5M333.9 397.3v-1.5M222.3 384.1h1.5M222.3 362.4h1.5M222.3 340.7h1.5M222.3 319.0h1.5M222.3 297.3h1.5M222.3 275.6h1.5M222.3 253.9h1.5M222.3 232.2h1.5"/></g>
<g font-size="6.8" fill="#3c3c3c">
<text x="226.1" y="407.3" text-anchor="middle">0.05</text>
<text x="247.8" y="407.3" text-anchor="middle">0.06</text>
<text x="269.4" y="407.3" text-anchor="middle">0.07</text>
<text x="291.0" y="407.3" text-anchor="middle">0.08</text>
<text x="312.7" y="407.3" text-anchor="middle">0.09</text>
<text x="334.4" y="407.3" text-anchor="middle">0.1</text>
<text x="219.9" y="386.6" text-anchor="end">0.02</text>
<text x="219.9" y="364.9" text-anchor="end">0.03</text>
<text x="219.9" y="343.2" text-anchor="end">0.04</text>
<text x="219.9" y="321.5" text-anchor="end">0.05</text>
<text x="219.9" y="299.8" text-anchor="end">0.06</text>
<text x="219.9" y="278.1" text-anchor="end">0.07</text>
<text x="219.9" y="256.4" text-anchor="end">0.08</text>
<text x="219.9" y="234.7" text-anchor="end">0.09</text>
</g>
<g clip-path="url(#c6)"><g filter="url(#jm)">
<rect x="375.5" y="227.5" width="140" height="180" fill="#595959"/>
<g filter="url(#b10)">
<polyline points="449,240 438,262 426,284 410,302" fill="none" stroke="#1c1c1c" stroke-width="28" stroke-linecap="round" stroke-linejoin="round"/>
<polyline points="436,290 465,293 490,298" fill="none" stroke="#2c2c2c" stroke-width="14" stroke-linecap="round" stroke-linejoin="round"/>
<ellipse cx="405" cy="322" rx="26" ry="28" fill="#181818" transform="rotate(-30 405 322)"/>
<ellipse cx="428" cy="346" rx="20" ry="13" fill="#242424" transform="rotate(30 428 346)"/>
<ellipse cx="406" cy="350" rx="24" ry="12" fill="#1c1c1c" transform="rotate(42 406 350)"/>
<ellipse cx="490" cy="298" rx="18" ry="13" fill="#161616"/>
<ellipse cx="455" cy="345" rx="14" ry="12" fill="#404040"/>
<ellipse cx="485" cy="335" rx="15" ry="22" fill="#6b6b6b"/>
<ellipse cx="470" cy="364" rx="16" ry="9" fill="#6d6d6d"/>
<ellipse cx="487" cy="264" rx="10" ry="10" fill="#515151"/>
<ellipse cx="478" cy="244" rx="12" ry="10" fill="#696969"/>
</g>
<g filter="url(#b6)">
<ellipse cx="402" cy="264" rx="10" ry="18" fill="#5f5f5f" transform="rotate(25 402 264)"/>
<ellipse cx="466" cy="367" rx="18" ry="9" fill="#6d6d6d" transform="rotate(-15 466 367)"/>
</g>
<g filter="url(#b4)">
<ellipse cx="447" cy="244" rx="16" ry="8" fill="#0f0f0f" transform="rotate(-20 447 244)"/>
<ellipse cx="458.5" cy="343.5" rx="5" ry="5" fill="#282828"/>
<ellipse cx="487" cy="297" rx="8" ry="6" fill="#181818"/>
</g>
<g filter="url(#b3)">
<polyline points="388,286 392,272 398,260 405,246 417,236 432,231" fill="none" stroke="#818181" stroke-width="8" stroke-linecap="round" stroke-linejoin="round"/>
</g>
<g filter="url(#b2)">
<polyline points="430,230 460,229.5" fill="none" stroke="#8e8e8e" stroke-width="6" stroke-linecap="round" stroke-linejoin="round"/>
</g>
<g filter="url(#b1)">
<polygon shape-rendering="crispEdges" points="428,378 454,378 454,399 428,399" fill="#7d7d7d"/>
</g>
</g>
</g>
<g stroke="#969696" stroke-width="0.9" fill="none">
<path d="M380.5 230.5V395.3H506.4M383.9 395.3v-1.5M405.2 395.3v-1.5M426.5 395.3v-1.5M447.9 395.3v-1.5M469.2 395.3v-1.5M490.5 395.3v-1.5M380.5 382.0h1.5M380.5 360.6h1.5M380.5 339.2h1.5M380.5 317.8h1.5M380.5 296.4h1.5M380.5 275.0h1.5M380.5 253.6h1.5M380.5 232.2h1.5"/></g>
<g font-size="6.8" fill="#3c3c3c">
<text x="384.4" y="405.3" text-anchor="middle">0.05</text>
<text x="405.7" y="405.3" text-anchor="middle">0.06</text>
<text x="427.0" y="405.3" text-anchor="middle">0.07</text>
<text x="448.4" y="405.3" text-anchor="middle">0.08</text>
<text x="469.7" y="405.3" text-anchor="middle">0.09</text>
<text x="491.0" y="405.3" text-anchor="middle">0.1</text>
<text x="378.1" y="384.5" text-anchor="end">0.02</text>
<text x="378.1" y="363.1" text-anchor="end">0.03</text>
<text x="378.1" y="341.7" text-anchor="end">0.04</text>
<text x="378.1" y="320.3" text-anchor="end">0.05</text>
<text x="378.1" y="298.9" text-anchor="end">0.06</text>
<text x="378.1" y="277.5" text-anchor="end">0.07</text>
<text x="378.1" y="256.1" text-anchor="end">0.08</text>
<text x="378.1" y="234.7" text-anchor="end">0.09</text>
</g>
<rect x="518.1" y="107.7" width="11.2" height="185.4" fill="url(#jet)" stroke="#666" stroke-width="0.3"/>
<g font-size="6.8" fill="#3c3c3c">
<text x="532.9" y="290.1" stroke="#3c3c3c" stroke-width="0.15">1</text>
<path d="M529.3 287.6h-1.6" stroke="#555" stroke-width="0.6"/>
<text x="532.9" y="260.6" stroke="#3c3c3c" stroke-width="0.15">2</text>
<path d="M529.3 258.1h-1.6" stroke="#555" stroke-width="0.6"/>
<text x="532.9" y="231.1" stroke="#3c3c3c" stroke-width="0.15">3</text>
<path d="M529.3 228.6h-1.6" stroke="#555" stroke-width="0.6"/>
<text x="532.9" y="201.5" stroke="#3c3c3c" stroke-width="0.15">4</text>
<path d="M529.3 199.0h-1.6" stroke="#555" stroke-width="0.6"/>
<text x="532.9" y="171.9" stroke="#3c3c3c" stroke-width="0.15">5</text>
<path d="M529.3 169.4h-1.6" stroke="#555" stroke-width="0.6"/>
<text x="532.9" y="142.4" stroke="#3c3c3c" stroke-width="0.15">6</text>
<path d="M529.3 139.9h-1.6" stroke="#555" stroke-width="0.6"/>
<text x="532.9" y="112.8" stroke="#3c3c3c" stroke-width="0.15">7</text>
<path d="M529.3 110.3h-1.6" stroke="#555" stroke-width="0.6"/>
<text x="530.6" y="103.6" font-size="6.8">×10<tspan dy="-2.8" font-size="4.8">4</tspan></text>
</g>
<g fill="#1a1a1a" font-size="12.2" stroke="#1a1a1a" stroke-width="0.3">
<text x="111.6" y="19" textLength="28.8" lengthAdjust="spacingAndGlyphs">Sham</text>
<text x="263" y="19" textLength="28" lengthAdjust="spacingAndGlyphs">sRNR</text>
<text x="426.4" y="16.4" textLength="26.6" lengthAdjust="spacingAndGlyphs">rRNR</text>
<text transform="translate(35.7 125.3) rotate(-90)" textLength="46.3" lengthAdjust="spacingAndGlyphs">Standard</text>
<text transform="translate(35.7 308.6) rotate(-90)" textLength="31.3" lengthAdjust="spacingAndGlyphs">Visual</text>
<text x="473.9" y="383.4" font-size="10.9" textLength="51.6" lengthAdjust="spacingAndGlyphs">t = 110ms</text>
</g>
</svg></body></html>
